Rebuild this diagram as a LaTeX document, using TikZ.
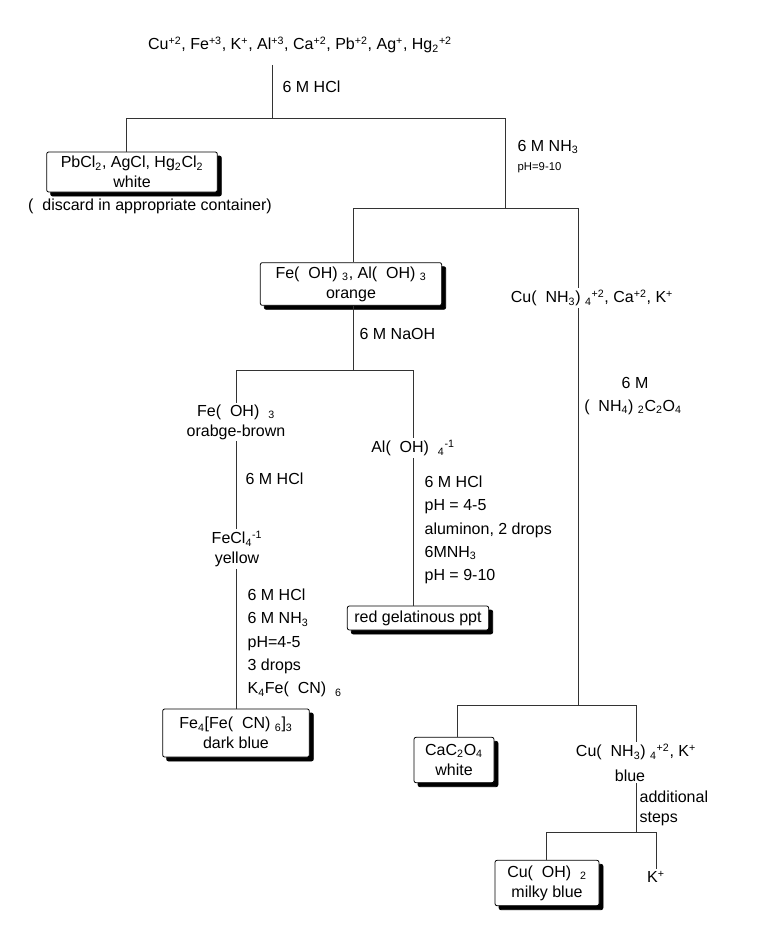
\documentclass[tikz,border=0pt]{standalone}
\usepackage{fontspec}
\setmainfont{Liberation Sans}
\newcommand{\sbs}[1]{\textsubscript{#1}}
\newcommand{\sps}[1]{\textsuperscript{#1}}
\begin{document}
\begin{tikzpicture}[x=0.75pt,y=-0.75pt,
  every node/.style={font=\fontsize{12}{15}\selectfont,inner sep=1pt,align=center},
  ln/.style={draw=black!80,line width=0.6pt},
  box/.style={draw,rounded corners=1.5pt,fill=white,line width=0.6pt,minimum height=30pt,inner xsep=3pt,
     preaction={fill=black,draw=black,transform canvas={xshift=3pt,yshift=-3pt}}},
  lbl/.style={anchor=west,align=left}]
\useasboundingbox (0,0) rectangle (771,949);
\node (top) at (300,45) {Cu\sps{+2}, Fe\sps{+3}, K\sps{+}, Al\sps{+3}, Ca\sps{+2}, Pb\sps{+2}, Ag\sps{+}, Hg\sbs{2}\sps{+2}};
\coordinate (t1) at (272,65); \coordinate (j1) at (272,118);
\draw[ln] (t1) -- (j1);
\node[lbl] at (281,87) {6 M HCl};
\coordinate (a1) at (126,118); \coordinate (a2) at (505,118);
\draw[ln] (a1) -- (a2);
\node[box,minimum width=128pt] (pb) at (132,172) {PbCl\sbs{2}, AgCl, Hg\sbs{2}Cl\sbs{2}\\white};
\draw[ln] (a1) -- (pb.north -| a1);
\node at (150,206) {(\ \ discard in appropriate container)};
\coordinate (b1) at (505,208);
\draw[ln] (a2) -- (b1);
\node[lbl] at (516,147) {6 M NH\sbs{3}};
\node[lbl,font=\fontsize{8.5}{10}\selectfont] at (516,168) {pH=9-10};
\coordinate (b0) at (353,208); \coordinate (b2) at (578,208);
\draw[ln] (b0) -- (b2);
\node[box,minimum width=136pt,minimum height=32pt] (fe) at (351,284) {Fe(\ \ OH)\ \sbs{3}, Al(\ \ OH)\ \sbs{3}\\orange};
\draw[ln] (b0) -- (fe.north -| b0);
\node (cu) at (592,298) {Cu(\ \ NH\sbs{3})\ \sbs{4}\sps{+2}, Ca\sps{+2}, K\sps{+}};
\draw[ln] (b2) -- (cu.north -| b2);
\coordinate (c1) at (578,705);
\draw[ln] (cu.south -| b2) -- (c1);
\node at (635,383) {6 M};
\node at (633,407) {(\ \ NH\sbs{4})\ \sbs{2}C\sbs{2}O\sbs{4}};
\coordinate (c0) at (457,705); \coordinate (c2) at (636,705);
\draw[ln] (c0) -- (c2);
\node[box,minimum width=60pt,minimum height=34pt] (ca) at (454,760) {CaC\sbs{2}O\sbs{4}\\white};
\draw[ln] (c0) -- (ca.north -| c0);
\node (cub) at (636,752) {Cu(\ \ NH\sbs{3})\ \sbs{4}\sps{+2}, K\sps{+}};
\draw[ln] (c2) -- (cub.north -| c2);
\node (blue) at (630,776) {blue};
\coordinate (d1) at (636,832);
\draw[ln] (blue.south -| c2) -- (d1);
\node[lbl] at (638,808) {additional\\steps};
\coordinate (d0) at (546,832); \coordinate (d2) at (656,832);
\draw[ln] (d0) -- (d2);
\node[box,minimum width=78pt,minimum height=34pt] (cuoh) at (547,883) {Cu(\ \ OH)\ \ \sbs{2}\\milky blue};
\draw[ln] (d0) -- (cuoh.north -| d0);
\node (kp) at (656,877) {K\sps{+}};
\draw[ln] (d2) -- (kp.north -| d2);
% Fe branch
\coordinate (e1) at (353,370);
\draw[ln] (fe.south -| b0) -- (e1);
\node[lbl] at (358,334) {6 M NaOH};
\coordinate (e0) at (236,370); \coordinate (e2) at (413,370);
\draw[ln] (e0) -- (e2);
\node (feoh) at (236,422) {Fe(\ \ OH)\ \ \sbs{3}\\orabge-brown};
\draw[ln] (e0) -- (feoh.north -| e0);
\node (fecl) at (237,549) {FeCl\sbs{4}\sps{-1}\\yellow};
\draw[ln] (feoh.south -| e0) -- (fecl.north -| e0);
\node[lbl] at (244,479) {6 M HCl};
\node[box,minimum width=110pt,minimum height=36pt] (fecn) at (236,733) {Fe\sbs{4}[Fe(\ \ CN)\ \sbs{6}]\sbs{3}\\dark blue};
\draw[ln] (fecl.south -| e0) -- (fecn.north -| e0);
\node[lbl,font=\fontsize{12}{17.5}\selectfont] at (246,643) {6 M HCl\\6 M NH\sbs{3}\\pH=4-5\\3 drops\\K\sbs{4}Fe(\ \ CN)\ \ \sbs{6}};
\node (aloh) at (413,448) {Al(\ \ OH)\ \ \sbs{4}\sps{-1}};
\draw[ln] (e2) -- (aloh.north -| e2);
\node[box,minimum width=106pt,minimum height=18pt,inner ysep=2pt] (red) at (418,618) {red gelatinous ppt};
\draw[ln] (aloh.south -| e2) -- (red.north -| e2);
\node[lbl,font=\fontsize{12}{17.5}\selectfont] at (423,530) {6 M HCl\\pH = 4-5\\aluminon, 2 drops\\6MNH\sbs{3}\\pH = 9-10};
\end{tikzpicture}
\end{document}
